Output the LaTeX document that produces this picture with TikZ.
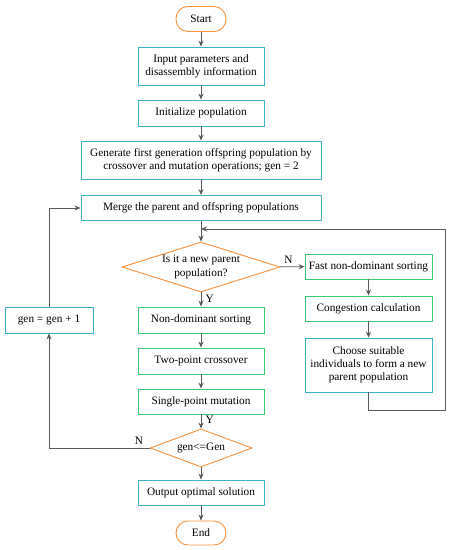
\documentclass[tikz,border=0pt]{standalone}
\usepackage{fontspec}
\setmainfont{Liberation Serif}
\usetikzlibrary{shapes.geometric,arrows.meta}
\definecolor{oran}{RGB}{250,145,60}
\definecolor{teal2}{RGB}{60,180,195}
\definecolor{grn}{RGB}{60,200,110}
\definecolor{lin}{RGB}{90,90,90}
\tikzset{
  base/.style={font=\fontsize{11.3}{13.2}\selectfont, align=center, inner sep=0pt, line width=0.9pt},
  tbox/.style={base, draw=teal2, fill=white},
  gbox/.style={base, draw=grn, fill=white},
  term/.style={base, draw=oran, rounded corners=12pt, minimum width=50pt, minimum height=25pt},
  dia/.style={base, draw=oran, diamond, aspect=3.1},
  conn/.style={draw=lin, line width=0.7pt, -{Stealth[length=6pt,width=5pt]}},
  plain/.style={draw=lin, line width=0.7pt},
  lab/.style={font=\fontsize{11.3}{13.2}\selectfont}
}
\begin{document}
\begin{tikzpicture}[x=1pt,y=-1pt]
\useasboundingbox (0,0) rectangle (451,550);
\node[term] (start) at (201,19) {Start};
\node[tbox, minimum width=126pt, minimum height=38pt] (input) at (201,66) {Input parameters and\\disassembly information};
\node[tbox, minimum width=126pt, minimum height=26pt] (init) at (201,113) {Initialize population};
\node[tbox, minimum width=240pt, minimum height=38pt] (gen1) at (201,160) {Generate first generation offspring population by\\crossover and mutation operations; gen = 2};
\node[tbox, minimum width=240pt, minimum height=25pt] (merge) at (201,208) {Merge the parent and offspring populations};
\node[dia, minimum width=158pt, minimum height=50pt] (d1) at (201,267) {};
\node[base] at (201,267) {Is it a new parent\\population?};
\node[gbox, minimum width=127pt, minimum height=25pt] (fast) at (368.5,266.5) {Fast non-dominant sorting};
\node[gbox, minimum width=127pt, minimum height=25pt] (cong) at (368.5,308.5) {Congestion calculation};
\node[tbox, minimum width=127pt, minimum height=54pt] (choose) at (368.5,365) {Choose suitable\\individuals to form a new\\parent population};
\node[gbox, minimum width=126pt, minimum height=26pt] (nds) at (201,320) {Non-dominant sorting};
\node[gbox, minimum width=126pt, minimum height=26pt] (tpc) at (201,361) {Two-point crossover};
\node[gbox, minimum width=126pt, minimum height=25pt] (spm) at (201,401.5) {Single-point mutation};
\node[dia, minimum width=102pt, minimum height=38pt] (d2) at (201,448) {};
\node[base] at (201,448) {gen<=Gen};
\node[tbox, minimum width=88pt, minimum height=26pt] (inc) at (49,320) {gen = gen + 1};
\node[tbox, minimum width=126pt, minimum height=25pt] (out) at (201,492.5) {Output optimal solution};
\node[term, minimum height=24pt] (end) at (201,533) {End};

\draw[conn] (start) -- (input);
\draw[conn] (input) -- (init);
\draw[conn] (init) -- (gen1);
\draw[conn] (gen1) -- (merge);
\draw[conn] (merge) -- (d1);
\draw[conn] (d1) -- (fast) node[lab, pos=0.35, above] {N};
\draw[conn] (fast) -- (cong);
\draw[conn] (cong) -- (choose);
\coordinate (rc1) at (445,410);
\coordinate (rc2) at (445,229);
\coordinate (mid) at (201,229);
\draw[plain] (choose.south) |- (rc1) -- (rc2);
\draw[conn] (rc2) -- (mid);
\draw[conn] (d1) -- (nds) node[lab, pos=0.45, right, xshift=1pt] {Y};
\draw[conn] (nds) -- (tpc);
\draw[conn] (tpc) -- (spm);
\draw[conn] (spm) -- (d2) node[lab, pos=0.4, right, xshift=1pt] {Y};
\draw[conn] (d2) -- (out);
\draw[conn] (out) -- (end);
\draw[conn] (d2.west) -| (inc.south);
\node[lab] at (139,441) {N};
\draw[conn] (inc.north) |- (merge.west);
\end{tikzpicture}
\end{document}
